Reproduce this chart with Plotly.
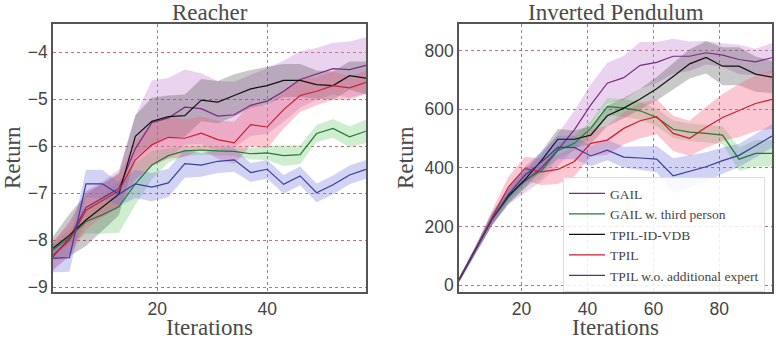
import plotly.graph_objects as go

# ---------------- data ----------------
series_names = ["GAIL", "GAIL w. third person", "TPIL-ID-VDB", "TPIL", "TPIL w.o. additional expert"]

x_reacher = [1, 4, 7, 10, 13, 16, 19, 22, 25, 28, 31, 34, 37, 40, 43, 46, 49, 52, 55, 58]
gail_r = [-8.35, -7.95, -7.3, -7.1, -6.9, -6.05, -5.5, -5.4, -5.17, -5.2, -5.36, -5.33, -5.13, -5.04, -4.83, -4.58, -4.46, -4.35, -4.37, -4.28]
gail3_r = [-8.21, -7.93, -7.6, -7.46, -7.29, -6.8, -6.4, -6.2, -6.1, -6.08, -6.1, -6.11, -6.16, -6.14, -6.2, -6.18, -5.73, -5.62, -5.8, -5.68]
vdb_r = [-8.17, -7.89, -7.57, -7.29, -7.02, -5.79, -5.47, -5.37, -5.35, -5.02, -5.06, -4.92, -4.78, -4.71, -4.6, -4.6, -4.69, -4.71, -4.5, -4.55]
tpil_r = [-8.32, -8.0, -7.36, -7.16, -6.95, -6.29, -5.97, -5.81, -5.83, -5.72, -5.86, -5.93, -5.54, -5.59, -5.22, -4.92, -4.83, -4.71, -4.76, -4.64]
tpilwo_r = [-8.38, -8.37, -6.8, -6.8, -7.02, -6.8, -6.87, -6.78, -6.37, -6.4, -6.32, -6.29, -6.56, -6.49, -6.81, -6.63, -6.99, -6.82, -6.61, -6.49]

gail_r_sd = [0.3, 0.35, 0.35, 0.35, 0.4, 0.7, 0.9, 0.85, 0.8, 0.75, 0.75, 0.7, 0.65, 0.7, 0.65, 0.6, 0.55, 0.55, 0.6, 0.6]
gail3_r_sd = [0.15, 0.15, 0.25, 0.4, 0.55, 0.45, 0.3, 0.15, 0.1, 0.1, 0.1, 0.1, 0.12, 0.15, 0.22, 0.2, 0.18, 0.2, 0.22, 0.25]
vdb_r_sd = [0.25, 0.45, 0.55, 0.5, 0.45, 0.45, 0.5, 0.45, 0.45, 0.45, 0.45, 0.45, 0.4, 0.4, 0.35, 0.35, 0.3, 0.3, 0.3, 0.35]
tpil_r_sd = [0.3, 0.35, 0.4, 0.35, 0.35, 0.4, 0.45, 0.45, 0.4, 0.35, 0.4, 0.45, 0.45, 0.45, 0.4, 0.35, 0.3, 0.3, 0.25, 0.25]
tpilwo_r_sd = [0.3, 0.3, 0.3, 0.3, 0.25, 0.3, 0.3, 0.3, 0.3, 0.25, 0.25, 0.25, 0.2, 0.2, 0.2, 0.2, 0.2, 0.2, 0.2, 0.2]

x_pend = [1, 6, 11, 16, 21, 26, 31, 36, 41, 46, 51, 56, 61, 66, 71, 76, 81, 86, 91, 96]
gail_p = [18, 120, 225, 305, 355, 400, 462, 530, 615, 689, 708, 750, 760, 781, 781, 793, 785, 770, 762, 776]
gail3_p = [18, 120, 225, 300, 360, 390, 459, 484, 535, 609, 605, 595, 572, 532, 522, 518, 512, 430, 450, 450]
vdb_p = [18, 120, 225, 305, 360, 425, 498, 498, 512, 578, 604, 635, 670, 712, 755, 777, 747, 747, 720, 710]
tpil_p = [18, 120, 230, 335, 398, 387, 395, 422, 484, 495, 535, 561, 575, 518, 501, 539, 572, 596, 620, 634]
tpilwo_p = [18, 120, 225, 310, 375, 420, 470, 470, 441, 461, 437, 434, 430, 373, 388, 404, 425, 443, 476, 509]

gail_p_sd = [8, 12, 20, 30, 40, 45, 55, 65, 70, 70, 75, 80, 70, 60, 50, 40, 40, 50, 45, 50]
gail3_p_sd = [8, 12, 20, 25, 25, 25, 25, 25, 25, 30, 30, 30, 30, 30, 30, 30, 30, 40, 45, 45]
vdb_p_sd = [8, 12, 20, 25, 30, 30, 35, 30, 30, 35, 35, 35, 40, 45, 50, 55, 65, 65, 60, 55]
tpil_p_sd = [8, 12, 25, 35, 40, 45, 50, 50, 45, 50, 55, 60, 60, 60, 60, 70, 80, 90, 95, 100]
tpilwo_p_sd = [8, 12, 20, 25, 30, 35, 40, 40, 35, 35, 35, 40, 45, 60, 55, 50, 45, 40, 40, 40]

reacher_x_ticks = [20, 40]
reacher_y_ticks = [-9, -8, -7, -6, -5, -4]
pend_x_ticks = [20, 40, 60, 80]
pend_y_ticks = [0, 200, 400, 600, 800]

# ---------------- styles ----------------
line_colors = ["#7a2a85", "#1f7a3c", "#111111", "#cc1f30", "#3a3f92"]
band_colors = ["rgba(195,130,205,0.35)", "rgba(110,200,110,0.33)", "rgba(60,60,60,0.28)",
               "rgba(240,95,125,0.35)", "rgba(115,115,220,0.32)"]

reacher_means = [gail_r, gail3_r, vdb_r, tpil_r, tpilwo_r]
reacher_sds = [gail_r_sd, gail3_r_sd, vdb_r_sd, tpil_r_sd, tpilwo_r_sd]
pend_means = [gail_p, gail3_p, vdb_p, tpil_p, tpilwo_p]
pend_sds = [gail_p_sd, gail3_p_sd, vdb_p_sd, tpil_p_sd, tpilwo_p_sd]

fig = go.Figure()


def add_panel(xs, means, sds, xa, ya, legend):
    for m, s, bc in zip(means, sds, band_colors):
        up = [a + b for a, b in zip(m, s)]
        lo = [a - b for a, b in zip(m, s)]
        fig.add_trace(go.Scatter(x=xs + xs[::-1], y=up + lo[::-1], fill="toself",
                                 fillcolor=bc, line=dict(width=0), mode="lines",
                                 hoverinfo="skip", showlegend=False, xaxis=xa, yaxis=ya))
    for m, name, lc in zip(means, series_names, line_colors):
        fig.add_trace(go.Scatter(x=xs, y=m, mode="lines", name=name,
                                 line=dict(color=lc, width=1.2), showlegend=legend,
                                 xaxis=xa, yaxis=ya))


add_panel(x_reacher, reacher_means, reacher_sds, "x", "y", False)
add_panel(x_pend, pend_means, pend_sds, "x2", "y2", True)

grid_color = "rgba(175,65,75,0.75)"
tick_font = dict(family="Liberation Sans", size=17.5, color="#444444")


def axis(domain, rng, ticks, anchor):
    return dict(domain=domain, range=rng, tickvals=ticks, anchor=anchor,
                showgrid=True, gridcolor=grid_color, griddash="dot", gridwidth=1,
                showline=True, mirror=True, linecolor="#555555", linewidth=1.5,
                zeroline=False, ticks="", tickfont=tick_font, automargin=False)


W, H = 776, 339
fig.update_layout(
    width=W, height=H,
    margin=dict(l=0, r=0, t=0, b=0, pad=0, autoexpand=False),
    paper_bgcolor="white", plot_bgcolor="white",
    xaxis=axis([53 / W, 366 / W], [1, 58], reacher_x_ticks, "y"),
    yaxis=axis([1 - 292 / H, 1 - 24 / H], [-9.1, -3.4], reacher_y_ticks, "x"),
    xaxis2=axis([459 / W, 772 / W], [1, 96], pend_x_ticks, "y2"),
    yaxis2=axis([1 - 292 / H, 1 - 24 / H], [-23, 891], pend_y_ticks, "x2"),
    legend=dict(x=563 / W, y=1 - 177 / H, xanchor="left", yanchor="top",
                bgcolor="rgba(255,255,255,0.85)", bordercolor="#dddddd", borderwidth=1,
                font=dict(family="Liberation Serif", size=13.5, color="#444444"),
                itemwidth=36, tracegroupgap=0),
    showlegend=True,
)

serif_big = dict(family="Liberation Serif", size=23, color="#4a4a4a")
ann = []
ann.append(dict(text="Reacher", x=(53 + 366) / 2 / W, y=1 - 13 / H, xref="paper", yref="paper",
                showarrow=False, font=dict(family="Liberation Serif", size=23, color="#4a4a4a"),
                xanchor="center", yanchor="middle"))
ann.append(dict(text="Inverted Pendulum", x=(459 + 772) / 2 / W, y=1 - 13 / H, xref="paper", yref="paper",
                showarrow=False, font=dict(family="Liberation Serif", size=23, color="#4a4a4a"),
                xanchor="center", yanchor="middle"))
ann.append(dict(text="Iterations", x=(53 + 366) / 2 / W, y=1 - 327 / H, xref="paper", yref="paper",
                showarrow=False, font=serif_big, xanchor="center", yanchor="middle"))
ann.append(dict(text="Iterations", x=(459 + 772) / 2 / W, y=1 - 327 / H, xref="paper", yref="paper",
                showarrow=False, font=serif_big, xanchor="center", yanchor="middle"))
ann.append(dict(text="Return", x=12 / W, y=1 - 158 / H, xref="paper", yref="paper", textangle=-90,
                showarrow=False, font=serif_big, xanchor="center", yanchor="middle"))
ann.append(dict(text="Return", x=405 / W, y=1 - 158 / H, xref="paper", yref="paper", textangle=-90,
                showarrow=False, font=serif_big, xanchor="center", yanchor="middle"))
fig.update_layout(annotations=ann)

fig.write_html("out.html", config={"displayModeBar": False},
               post_script="document.body.style.margin='0';")
